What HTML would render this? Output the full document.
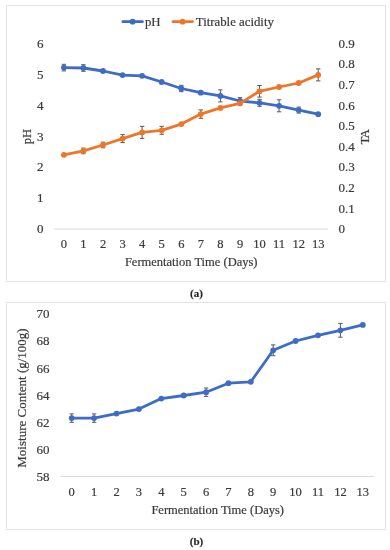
<!DOCTYPE html><html><head><meta charset="utf-8"><style>html,body{margin:0;padding:0;background:#fff;width:390px;height:550px;overflow:hidden}svg{display:block;will-change:transform}</style></head><body>
<svg width="390" height="550" viewBox="0 0 390 550" font-family='"Liberation Serif", serif'>
<style>text{stroke:#404040;stroke-width:0.2px}</style>
<rect x="6.5" y="5.5" width="379" height="276" fill="#fff" stroke="#E3E3E3" stroke-width="1"/>
<rect x="6.5" y="302.5" width="379" height="227" fill="#fff" stroke="#E3E3E3" stroke-width="1"/>
<line x1="54.1" y1="229.0" x2="328.0" y2="229.0" stroke="#D9D9D9" stroke-width="1"/>
<text x="43.6" y="233.2" font-size="13" fill="#383838" text-anchor="end">0</text>
<text x="43.6" y="202.3" font-size="13" fill="#383838" text-anchor="end">1</text>
<text x="43.6" y="171.4" font-size="13" fill="#383838" text-anchor="end">2</text>
<text x="43.6" y="140.5" font-size="13" fill="#383838" text-anchor="end">3</text>
<text x="43.6" y="109.6" font-size="13" fill="#383838" text-anchor="end">4</text>
<text x="43.6" y="78.7" font-size="13" fill="#383838" text-anchor="end">5</text>
<text x="43.6" y="47.8" font-size="13" fill="#383838" text-anchor="end">6</text>
<text x="338.6" y="233.2" font-size="13" fill="#383838">0</text>
<text x="338.6" y="212.6" font-size="13" fill="#383838">0.1</text>
<text x="338.6" y="192.0" font-size="13" fill="#383838">0.2</text>
<text x="338.6" y="171.4" font-size="13" fill="#383838">0.3</text>
<text x="338.6" y="150.8" font-size="13" fill="#383838">0.4</text>
<text x="338.6" y="130.2" font-size="13" fill="#383838">0.5</text>
<text x="338.6" y="109.6" font-size="13" fill="#383838">0.6</text>
<text x="338.6" y="89.0" font-size="13" fill="#383838">0.7</text>
<text x="338.6" y="68.4" font-size="13" fill="#383838">0.8</text>
<text x="338.6" y="47.8" font-size="13" fill="#383838">0.9</text>
<text x="63.9" y="248" font-size="12.5" fill="#383838" text-anchor="middle">0</text>
<text x="83.4" y="248" font-size="12.5" fill="#383838" text-anchor="middle">1</text>
<text x="103.0" y="248" font-size="12.5" fill="#383838" text-anchor="middle">2</text>
<text x="122.6" y="248" font-size="12.5" fill="#383838" text-anchor="middle">3</text>
<text x="142.1" y="248" font-size="12.5" fill="#383838" text-anchor="middle">4</text>
<text x="161.7" y="248" font-size="12.5" fill="#383838" text-anchor="middle">5</text>
<text x="181.3" y="248" font-size="12.5" fill="#383838" text-anchor="middle">6</text>
<text x="200.8" y="248" font-size="12.5" fill="#383838" text-anchor="middle">7</text>
<text x="220.4" y="248" font-size="12.5" fill="#383838" text-anchor="middle">8</text>
<text x="240.0" y="248" font-size="12.5" fill="#383838" text-anchor="middle">9</text>
<text x="259.5" y="248" font-size="12.5" fill="#383838" text-anchor="middle">10</text>
<text x="279.1" y="248" font-size="12.5" fill="#383838" text-anchor="middle">11</text>
<text x="298.7" y="248" font-size="12.5" fill="#383838" text-anchor="middle">12</text>
<text x="318.2" y="248" font-size="12.5" fill="#383838" text-anchor="middle">13</text>
<text x="191.2" y="265.7" font-size="12.5" fill="#383838" text-anchor="middle">Fermentation Time (Days)</text>
<text transform="translate(30.6,136.5) rotate(-90)" font-size="12.5" fill="#383838" text-anchor="middle">pH</text>
<text transform="translate(369,136.8) rotate(-90)" font-size="13" fill="#383838" text-anchor="middle">T<tspan dx="-0.7">A</tspan></text>
<polyline points="63.9,67.6 83.4,68.0 103.0,71.0 122.6,75.1 142.1,75.8 161.7,82.0 181.3,88.5 200.8,92.7 220.4,95.9 240.0,101.0 259.5,102.8 279.1,105.8 298.7,110.1 318.2,114.2" fill="none" stroke="#3D6CC6" stroke-width="2.8" stroke-linejoin="round" stroke-linecap="round"/>
<path d="M63.9,64.3V70.9M61.7,64.3H66.1M61.7,70.9H66.1" stroke="#595959" stroke-width="1" fill="none"/>
<path d="M83.4,64.7V71.3M81.2,64.7H85.6M81.2,71.3H85.6" stroke="#595959" stroke-width="1" fill="none"/>
<path d="M181.3,85.3V91.7M179.1,85.3H183.5M179.1,91.7H183.5" stroke="#595959" stroke-width="1" fill="none"/>
<path d="M220.4,89.9V101.9M218.2,89.9H222.6M218.2,101.9H222.6" stroke="#595959" stroke-width="1" fill="none"/>
<path d="M240.0,97.6V104.4M237.8,97.6H242.2M237.8,104.4H242.2" stroke="#595959" stroke-width="1" fill="none"/>
<path d="M259.5,99.3V106.3M257.3,99.3H261.7M257.3,106.3H261.7" stroke="#595959" stroke-width="1" fill="none"/>
<path d="M279.1,99.8V111.8M276.9,99.8H281.3M276.9,111.8H281.3" stroke="#595959" stroke-width="1" fill="none"/>
<path d="M298.7,107.1V113.1M296.5,107.1H300.9M296.5,113.1H300.9" stroke="#595959" stroke-width="1" fill="none"/>
<circle cx="63.9" cy="67.6" r="2.9" fill="#3D6CC6"/>
<circle cx="83.4" cy="68.0" r="2.9" fill="#3D6CC6"/>
<circle cx="103.0" cy="71.0" r="2.9" fill="#3D6CC6"/>
<circle cx="122.6" cy="75.1" r="2.9" fill="#3D6CC6"/>
<circle cx="142.1" cy="75.8" r="2.9" fill="#3D6CC6"/>
<circle cx="161.7" cy="82.0" r="2.9" fill="#3D6CC6"/>
<circle cx="181.3" cy="88.5" r="2.9" fill="#3D6CC6"/>
<circle cx="200.8" cy="92.7" r="2.9" fill="#3D6CC6"/>
<circle cx="220.4" cy="95.9" r="2.9" fill="#3D6CC6"/>
<circle cx="240.0" cy="101.0" r="2.9" fill="#3D6CC6"/>
<circle cx="259.5" cy="102.8" r="2.9" fill="#3D6CC6"/>
<circle cx="279.1" cy="105.8" r="2.9" fill="#3D6CC6"/>
<circle cx="298.7" cy="110.1" r="2.9" fill="#3D6CC6"/>
<circle cx="318.2" cy="114.2" r="2.9" fill="#3D6CC6"/>
<polyline points="63.9,154.8 83.4,150.9 103.0,145.0 122.6,138.6 142.1,132.4 161.7,130.3 181.3,124.1 200.8,114.1 220.4,107.9 240.0,103.4 259.5,91.3 279.1,87.0 298.7,83.0 318.2,74.9" fill="none" stroke="#EE7628" stroke-width="2.8" stroke-linejoin="round" stroke-linecap="round"/>
<path d="M83.4,148.1V153.7M81.2,148.1H85.6M81.2,153.7H85.6" stroke="#595959" stroke-width="1" fill="none"/>
<path d="M103.0,142.2V147.8M100.8,142.2H105.2M100.8,147.8H105.2" stroke="#595959" stroke-width="1" fill="none"/>
<path d="M122.6,134.6V142.6M120.4,134.6H124.8M120.4,142.6H124.8" stroke="#595959" stroke-width="1" fill="none"/>
<path d="M142.1,126.4V138.4M139.9,126.4H144.3M139.9,138.4H144.3" stroke="#595959" stroke-width="1" fill="none"/>
<path d="M161.7,126.3V134.3M159.5,126.3H163.9M159.5,134.3H163.9" stroke="#595959" stroke-width="1" fill="none"/>
<path d="M200.8,109.9V118.3M198.6,109.9H203.0M198.6,118.3H203.0" stroke="#595959" stroke-width="1" fill="none"/>
<path d="M259.5,85.5V97.1M257.3,85.5H261.7M257.3,97.1H261.7" stroke="#595959" stroke-width="1" fill="none"/>
<path d="M318.2,68.9V80.9M316.0,68.9H320.4M316.0,80.9H320.4" stroke="#595959" stroke-width="1" fill="none"/>
<circle cx="63.9" cy="154.8" r="2.9" fill="#EE7628"/>
<circle cx="83.4" cy="150.9" r="2.9" fill="#EE7628"/>
<circle cx="103.0" cy="145.0" r="2.9" fill="#EE7628"/>
<circle cx="122.6" cy="138.6" r="2.9" fill="#EE7628"/>
<circle cx="142.1" cy="132.4" r="2.9" fill="#EE7628"/>
<circle cx="161.7" cy="130.3" r="2.9" fill="#EE7628"/>
<circle cx="181.3" cy="124.1" r="2.9" fill="#EE7628"/>
<circle cx="200.8" cy="114.1" r="2.9" fill="#EE7628"/>
<circle cx="220.4" cy="107.9" r="2.9" fill="#EE7628"/>
<circle cx="240.0" cy="103.4" r="2.9" fill="#EE7628"/>
<circle cx="259.5" cy="91.3" r="2.9" fill="#EE7628"/>
<circle cx="279.1" cy="87.0" r="2.9" fill="#EE7628"/>
<circle cx="298.7" cy="83.0" r="2.9" fill="#EE7628"/>
<circle cx="318.2" cy="74.9" r="2.9" fill="#EE7628"/>
<line x1="122.9" y1="21.7" x2="142.4" y2="21.7" stroke="#3D6CC6" stroke-width="2.8" stroke-linecap="round"/><circle cx="132.6" cy="21.7" r="2.9" fill="#3D6CC6"/>
<text x="144.9" y="25.9" font-size="12.8" fill="#383838">pH</text>
<line x1="173" y1="21.7" x2="192.5" y2="21.7" stroke="#EE7628" stroke-width="2.8" stroke-linecap="round"/><circle cx="182.6" cy="21.7" r="2.9" fill="#EE7628"/>
<text x="195.8" y="25.9" font-size="12.8" fill="#383838">Titrable acidity</text>
<text x="196.5" y="297" font-size="11" font-weight="bold" fill="#222" text-anchor="middle">(a)</text>
<line x1="60.5" y1="476.6" x2="374.0" y2="476.6" stroke="#D9D9D9" stroke-width="1"/>
<text x="49.6" y="481.2" font-size="13" fill="#383838" text-anchor="end">58</text>
<text x="49.6" y="454.0" font-size="13" fill="#383838" text-anchor="end">60</text>
<text x="49.6" y="426.8" font-size="13" fill="#383838" text-anchor="end">62</text>
<text x="49.6" y="399.7" font-size="13" fill="#383838" text-anchor="end">64</text>
<text x="49.6" y="372.5" font-size="13" fill="#383838" text-anchor="end">66</text>
<text x="49.6" y="345.3" font-size="13" fill="#383838" text-anchor="end">68</text>
<text x="49.6" y="318.1" font-size="13" fill="#383838" text-anchor="end">70</text>
<text x="71.7" y="495.7" font-size="12.5" fill="#383838" text-anchor="middle">0</text>
<text x="94.1" y="495.7" font-size="12.5" fill="#383838" text-anchor="middle">1</text>
<text x="116.5" y="495.7" font-size="12.5" fill="#383838" text-anchor="middle">2</text>
<text x="138.9" y="495.7" font-size="12.5" fill="#383838" text-anchor="middle">3</text>
<text x="161.3" y="495.7" font-size="12.5" fill="#383838" text-anchor="middle">4</text>
<text x="183.7" y="495.7" font-size="12.5" fill="#383838" text-anchor="middle">5</text>
<text x="206.1" y="495.7" font-size="12.5" fill="#383838" text-anchor="middle">6</text>
<text x="228.4" y="495.7" font-size="12.5" fill="#383838" text-anchor="middle">7</text>
<text x="250.8" y="495.7" font-size="12.5" fill="#383838" text-anchor="middle">8</text>
<text x="273.2" y="495.7" font-size="12.5" fill="#383838" text-anchor="middle">9</text>
<text x="295.6" y="495.7" font-size="12.5" fill="#383838" text-anchor="middle">10</text>
<text x="318.0" y="495.7" font-size="12.5" fill="#383838" text-anchor="middle">11</text>
<text x="340.4" y="495.7" font-size="12.5" fill="#383838" text-anchor="middle">12</text>
<text x="362.8" y="495.7" font-size="12.5" fill="#383838" text-anchor="middle">13</text>
<text x="217.7" y="513.7" font-size="12.5" fill="#383838" text-anchor="middle">Fermentation Time (Days)</text>
<text transform="translate(25.8,398) rotate(-90)" font-size="13" fill="#383838" text-anchor="middle">Moisture Content (g/100g)</text>
<polyline points="71.7,418.1 94.1,418.1 116.5,413.6 138.9,409.1 161.3,398.6 183.7,395.5 206.1,392.2 228.4,383.2 250.8,381.8 273.2,350.3 295.6,341.0 318.0,335.3 340.4,330.3 362.8,324.9" fill="none" stroke="#3D6CC6" stroke-width="2.8" stroke-linejoin="round" stroke-linecap="round"/>
<path d="M71.7,413.9V422.3M69.5,413.9H73.9M69.5,422.3H73.9" stroke="#595959" stroke-width="1" fill="none"/>
<path d="M94.1,413.9V422.3M91.9,413.9H96.3M91.9,422.3H96.3" stroke="#595959" stroke-width="1" fill="none"/>
<path d="M206.1,388.0V396.4M203.9,388.0H208.3M203.9,396.4H208.3" stroke="#595959" stroke-width="1" fill="none"/>
<path d="M273.2,344.9V355.7M271.0,344.9H275.4M271.0,355.7H275.4" stroke="#595959" stroke-width="1" fill="none"/>
<path d="M340.4,323.4V337.2M338.2,323.4H342.6M338.2,337.2H342.6" stroke="#595959" stroke-width="1" fill="none"/>
<circle cx="71.7" cy="418.1" r="2.9" fill="#3D6CC6"/>
<circle cx="94.1" cy="418.1" r="2.9" fill="#3D6CC6"/>
<circle cx="116.5" cy="413.6" r="2.9" fill="#3D6CC6"/>
<circle cx="138.9" cy="409.1" r="2.9" fill="#3D6CC6"/>
<circle cx="161.3" cy="398.6" r="2.9" fill="#3D6CC6"/>
<circle cx="183.7" cy="395.5" r="2.9" fill="#3D6CC6"/>
<circle cx="206.1" cy="392.2" r="2.9" fill="#3D6CC6"/>
<circle cx="228.4" cy="383.2" r="2.9" fill="#3D6CC6"/>
<circle cx="250.8" cy="381.8" r="2.9" fill="#3D6CC6"/>
<circle cx="273.2" cy="350.3" r="2.9" fill="#3D6CC6"/>
<circle cx="295.6" cy="341.0" r="2.9" fill="#3D6CC6"/>
<circle cx="318.0" cy="335.3" r="2.9" fill="#3D6CC6"/>
<circle cx="340.4" cy="330.3" r="2.9" fill="#3D6CC6"/>
<circle cx="362.8" cy="324.9" r="2.9" fill="#3D6CC6"/>
<text x="196.5" y="544.5" font-size="11" font-weight="bold" fill="#222" text-anchor="middle">(b)</text>
</svg></body></html>
